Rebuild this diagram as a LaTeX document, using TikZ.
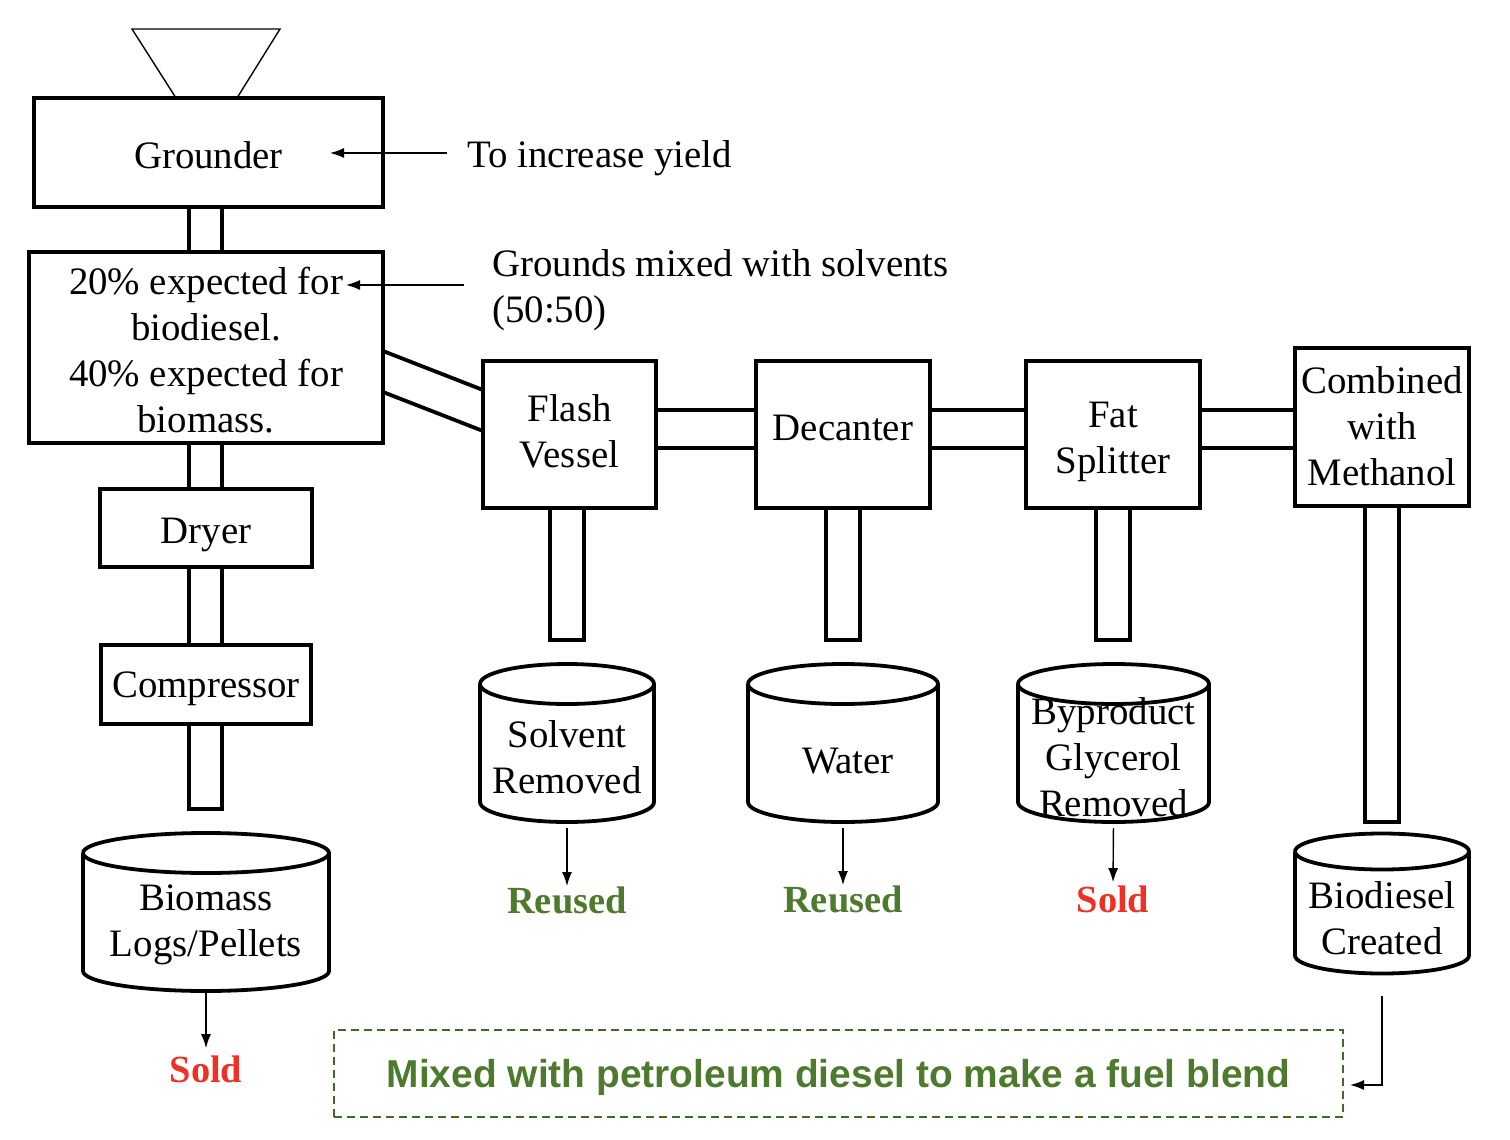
\documentclass[tikz,border=0pt]{standalone}
\usepackage{fontspec}
\setmainfont{Liberation Serif}
\setsansfont{Liberation Sans}
\usetikzlibrary{arrows.meta}

\definecolor{soldred}{HTML}{EE3124}
\definecolor{reusegreen}{HTML}{4E7A2E}
\definecolor{dashgreen}{HTML}{3F6B28}

\newcommand{\topstrut}[1]{\rule{0pt}{#1}}
\newcommand{\botstrut}[1]{\rule[-#1]{0pt}{0pt}}
% outline of a tank round a node: node, half width, cap height
\newcommand{\tankline}[3]{
	\draw[pipe] ([yshift=-#3]#1.north west) arc[start angle=180,end angle=-180,x radius=#2,y radius=#3];
	\draw[pipe] ([yshift=-#3]#1.north west) -- ([yshift=#3]#1.south west)
		arc[start angle=180,end angle=360,x radius=#2,y radius=#3] -- ([yshift=-#3]#1.north east);
}

\tikzset{
	unit/.style={draw=black,line width=1.9pt,outer sep=0pt,inner sep=0pt,align=center,
		font=\fontsize{19.42}{23}\selectfont},
	tank/.style={outer sep=0pt,inner sep=0pt,align=center,font=\fontsize{19.42}{23}\selectfont},
	note/.style={inner sep=0pt,align=left,font=\fontsize{19.42}{23}\selectfont},
	outcome/.style={inner sep=0pt,font=\fontsize{19.2}{23}\selectfont\bfseries},
	pipe/.style={line width=1.9pt,line cap=butt},
	flow/.style={line width=0.7pt,-{Latex[length=7pt,width=5pt]}}
}

\begin{document}
\begin{tikzpicture}[x=0.5pt,y=-0.5pt]
	\useasboundingbox (0,0) rectangle (1510,1140);

	% process units
	\node[unit,minimum width=174.5pt,minimum height=54.5pt] (grounder) at (208.5,152.5) {\topstrut{16.3pt}Grounder};
	\node[unit,minimum width=177pt,minimum height=95.5pt] (mix) at (206,347.5) {\topstrut{16.3pt}20\% expected for\\biodiesel.\\40\% expected for\\biomass.};
	\node[unit,minimum width=106pt,minimum height=39pt] (dryer) at (206,528) {\topstrut{20pt}Dryer};
	\node[unit,minimum width=105pt,minimum height=39.5pt] (compressor) at (206,684.5) {\topstrut{17pt}Compressor};
	\node[unit,minimum width=86.5pt,minimum height=73.5pt] (flash) at (569.5,434.5) {Flash\\Vessel\botstrut{3.2pt}};
	\node[unit,minimum width=87pt,minimum height=73.5pt] (decanter) at (843,434.5) {Decanter\botstrut{7.2pt}};
	\node[unit,minimum width=87pt,minimum height=73.5pt] (splitter) at (1113,434.5) {\topstrut{20.3pt}Fat\\Splitter};
	\node[unit,minimum width=87pt,minimum height=79pt] (combined) at (1382,427) {Combined\\with\\Methanol\botstrut{1.2pt}};

	% hopper
	\draw[line width=0.7pt] (176,98) -- (132,29) -- (280,29) -- (237,98);

	% tanks
	\node[tank,minimum width=87pt,minimum height=79pt] (solvent) at (567,743) {\topstrut{28pt}Solvent\\Removed};
	\node[tank,minimum width=95pt,minimum height=79pt] (water) at (843,743) {\topstrut{31pt}\hspace*{5pt}Water};
	\node[tank,minimum width=95.5pt,minimum height=79pt] (byproduct) at (1113.5,743) {\topstrut{28pt}Byproduct\\Glycerol\\Removed};
	\node[tank,minimum width=123pt,minimum height=79pt] (biomass) at (206,912) {\topstrut{26pt}Biomass\\Logs/Pellets};
	\node[tank,minimum width=87pt,minimum height=70pt] (biodiesel) at (1382,903.5) {\topstrut{28.5pt}Biodiesel\\Created};
	\tankline{solvent}{43.5pt}{10pt}
	\tankline{water}{47.5pt}{10pt}
	\tankline{byproduct}{47.75pt}{10pt}
	\tankline{biomass}{61.5pt}{10pt}
	\tankline{biodiesel}{43.5pt}{9pt}

	% pipes
	\foreach \px in {189,222} {
		\draw[pipe] (grounder.south -| \px,0) -- (mix.north -| \px,0);
		\draw[pipe] (mix.south -| \px,0) -- (dryer.north -| \px,0);
		\draw[pipe] (dryer.south -| \px,0) -- (compressor.north -| \px,0);
	}
	\foreach \pa/\pb in {flash/decanter,decanter/splitter,splitter/combined} {
		\draw[pipe] (\pa.east |- 0,410) -- (\pb.west |- 0,410);
		\draw[pipe] (\pa.east |- 0,448) -- (\pb.west |- 0,448);
	}
	\draw[pipe] (mix.east |- 0,351) -- (flash.west |- 0,390);
	\draw[pipe] (mix.east |- 0,392) -- (flash.west |- 0,431);
	\foreach \pu/\pl/\pr/\pe in {compressor/189/222/809,flash/550/584/640,decanter/826/860/640,splitter/1096/1130/640,combined/1365/1399/822} {
		\draw[pipe] (\pu.south -| \pl,0) -- (\pl,\pe) -- (\pr,\pe) -- (\pu.south -| \pr,0);
	}

	% side notes
	\node[note,anchor=west] (yield) at (467,158) {To increase yield};
	\node[note,anchor=west] (grounds) at (492,290) {Grounds mixed with solvents\\(50:50)};
	\coordinate (yieldtip) at (330,153);
	\coordinate (mixtip) at (346,285);
	\coordinate (yieldtail) at (447,153);
	\coordinate (groundstail) at (464,285);
	\draw[flow] (yieldtail) -- (yieldtip);
	\draw[flow] (groundstail) -- (mixtip);

	% outcomes
	\node[outcome,text=reusegreen] (reusedA) at (567,900) {Reused};
	\node[outcome,text=reusegreen] (reusedB) at (843,899) {Reused};
	\node[outcome,text=soldred] (soldA) at (1113,899) {Sold};
	\node[outcome,text=soldred] (soldB) at (206,1069) {Sold};
	\node[draw=dashgreen,line width=0.8pt,dash pattern=on 4pt off 2.5pt,outer sep=0pt,inner sep=0pt,minimum width=504.5pt,minimum height=43.5pt,
		text=reusegreen,font=\sffamily\bfseries\fontsize{19.45}{23}\selectfont] (blend) at (838.5,1073.5) {\topstrut{18pt}Mixed with petroleum diesel to make a fuel blend};

	\draw[flow,shorten <=3pt] (solvent.south) -- (reusedA.north);
	\draw[flow,shorten <=3pt] (water.south) -- (reusedB.north);
	\draw[flow,shorten <=3pt,shorten >=1.5pt] (byproduct.south) -- (soldA.north);
	\draw[flow,shorten >=3.5pt] (biomass.south) -- (soldB.north);
	\coordinate (blendtip) at (1350,1085);
	\draw[flow,shorten <=11pt] (biodiesel.south) |- (blendtip);
\end{tikzpicture}
\end{document}
